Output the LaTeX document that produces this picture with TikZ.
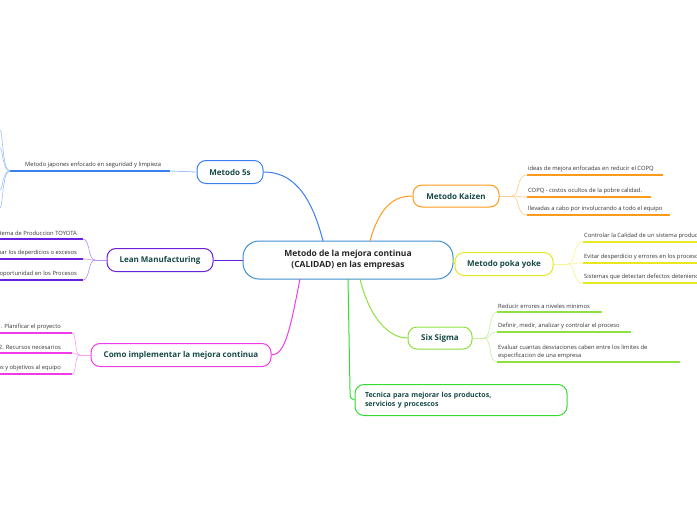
\documentclass[tikz,border=0pt]{standalone}
\usepackage{fontspec}
\setmainfont{Open Sans}
\begin{document}
\begin{tikzpicture}[x=1pt,y=-1pt,
 topic/.style={draw=#1,line width=1pt,rounded corners=9pt,fill=white,font=\fontsize{8}{10}\selectfont\bfseries,text=tt,inner sep=0pt},
 leaf/.style={font=\fontsize{5.8}{7.5}\selectfont,text=black!80,anchor=south west,inner sep=1pt},
 leafr/.style={font=\fontsize{5.8}{7.5}\selectfont,text=black!80,anchor=south east,inner sep=1pt}]
\definecolor{c5}{HTML}{3A7FF0}\definecolor{cl}{HTML}{6B1FE0}\definecolor{cc}{HTML}{F03CE8}
\definecolor{ck}{HTML}{FF9A1A}\definecolor{cp}{HTML}{E8E820}\definecolor{cs}{HTML}{8CE040}
\definecolor{ct}{HTML}{33DD33}\definecolor{cm}{HTML}{3D8FD1}\definecolor{tt}{HTML}{164A45}
\useasboundingbox (0,0) rectangle (697,520);
\clip (0,0) rectangle (697,520);
% nodes
\node[topic=cm,minimum width=210,minimum height=38,align=center,rounded corners=16pt,font=\fontsize{8.5}{11}\selectfont\bfseries,text=black!85] (m) at (348,260) {Metodo de la mejora continua\\(CALIDAD) en las empresas};
\node[topic=c5,minimum width=66,minimum height=23] (s5) at (230,172) {Metodo 5s};
\node[topic=cl,minimum width=106,minimum height=23] (ln) at (160,260) {Lean Manufacturing};
\node[topic=cc,minimum width=180,minimum height=23] (co) at (181,355) {Como implementar la mejora continua};
\node[topic=ck,minimum width=86,minimum height=22] (kz) at (456,196) {Metodo Kaizen};
\node[topic=cp,minimum width=98,minimum height=23] (py) at (504,264) {Metodo poka yoke};
\node[topic=cs,minimum width=64,minimum height=22] (ss) at (440,338) {Six Sigma};
\node[topic=ct,minimum width=212,minimum height=31,align=left,text width=192,font=\fontsize{7}{9}\selectfont\bfseries] (tc) at (461,400) {Tecnica para mejorar los productos,\\servicios y procescos};
% main connectors
\draw[c5,line width=1pt] (323,241) .. controls (310,190) and (290,172) .. (s5.east);
\draw[cl,line width=1pt] (m.west) -- (ln.east);
\draw[cc,line width=1pt] (300,279) .. controls (290,330) and (285,355) .. (co.east);
\draw[ck,line width=1pt] (370,241) .. controls (380,205) and (395,196) .. (kz.west);
\draw[cp,line width=1pt] (m.east) -- (py.west);
\draw[cs,line width=1pt] (360,279) .. controls (370,320) and (390,338) .. (ss.west);
\draw[ct,line width=1pt] (348,279) -- (350,390) .. controls (350,398) .. (tc.west);
% 5s children
\coordinate (a5) at (10,171);
\draw[c5!50,line width=0.8pt] (s5.west) -- (170,171);
\draw[c5,line width=1.2pt] (170,171) -- (a5);
\node[leaf] at (24,169) {Metodo japones enfocado en seguridad y limpieza};
\foreach \y in {130,148,190,208} \draw[c5!50,line width=0.6pt] (a5) .. controls (2,171) and (3,\y) .. (0,\y);
% lean children
\coordinate (al) at (95,260);
\draw[cl!50,line width=0.6pt] (ln.west) -- (al);
\foreach \y/\t in {239/Sistema de Produccion TOYOTA,259/Eliminar los deperdicios o excesos,280/Mejora de oportunidad en los Procesos}{
 \draw[cl!50,line width=0.6pt] (al) .. controls (88,260) and (90,\y) .. (83,\y);
 \draw[cl,line width=1.2pt] (83,\y) -- (0,\y);
 \node[leafr] at (78,\y-2) {\t};}
% como children
\coordinate (ac) at (80,355);
\draw[cc!50,line width=0.6pt] (co.west) -- (ac);
\foreach \y/\t in {333/1. Planificar el proyecto,353/2. Recursos necesarios,374/3. Comunicar metas y objetivos al equipo}{
 \draw[cc!50,line width=0.6pt] (ac) .. controls (74,355) and (77,\y) .. (72,\y);
 \draw[cc,line width=1.2pt] (72,\y) -- (0,\y);
 \node[leafr] at (62,\y-2) {\t};}
% kaizen children
\coordinate (ak) at (512,196);
\draw[ck!50,line width=0.6pt] (kz.east) -- (ak);
\foreach \y/\e/\t in {175/663/ideas de mejora enfocadas en reducir el COPQ,197/651/COPQ - costos ocultos de la pobre calidad.,215/670/llevadas a cabo por involucrando a todo el equipo}{
 \draw[ck!50,line width=0.6pt] (ak) .. controls (520,196) and (516,\y) .. (527,\y);
 \draw[ck,line width=1.2pt] (527,\y) -- (\e,\y);
 \node[leaf] at (527,\y-2) {\t};}
% poka yoke children
\coordinate (ap) at (568,264);
\draw[cp!50,line width=0.6pt] (py.east) -- (ap);
\foreach \y/\t in {242/Controlar la Calidad de un sistema productivo,263/Evitar desperdicio y errores en los procesos,283/Sistemas que detectan defectos deteniendo el proceso}{
 \draw[cp!50,line width=0.6pt] (ap) .. controls (576,264) and (572,\y) .. (583,\y);
 \draw[cp,line width=1.2pt] (583,\y) -- (697,\y);
 \node[leaf] at (583,\y-2) {\t};}
% six sigma children
\coordinate (as) at (484,338);
\draw[cs!50,line width=0.6pt] (ss.east) -- (as);
\foreach \y/\e/\t in {312/602/{Reducir errores a niveles minimos},332/631/{Definir, medir, analizar y controlar el proceso},362/680/{Evaluar cuantas desviaciones caben entre los limites de\\especificacion de una empresa}}{
 \draw[cs!50,line width=0.6pt] (as) .. controls (492,338) and (488,\y) .. (497,\y);
 \draw[cs,line width=1.2pt] (497,\y) -- (\e,\y);
 \node[leaf,align=left] at (497,\y-2) {\t};}
\end{tikzpicture}
\end{document}
